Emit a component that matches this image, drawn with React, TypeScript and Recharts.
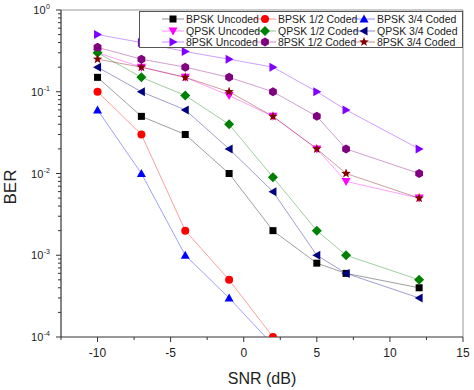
import { LineChart, Line, XAxis, YAxis, Legend, ReferenceLine } from "recharts"

const snr = [-10, -7, -4, -1, 2, 5, 7, 12]

const bpskUncoded = [0.15, 0.05, 0.03, 0.01, 0.002, 0.0008, 0.0006, 0.0004]
const bpskHalf = [0.1, 0.03, 0.002, 0.0005, 0.0001, null, null, null]
const bpskThreeQuarter = [0.06, 0.01, 0.001, 0.0003, 0.00008, null, null, null]
const qpskUncoded = [0.3, 0.2, 0.15, 0.09, 0.05, 0.02, 0.008, 0.005]
const qpskHalf = [0.3, 0.15, 0.09, 0.04, 0.009, 0.002, 0.001, 0.0005]
const qpskThreeQuarter = [0.2, 0.1, 0.06, 0.02, 0.006, 0.001, 0.0006, 0.0003]
const psk8Uncoded = [0.5, 0.4, 0.31, 0.25, 0.2, 0.1, 0.06, 0.02]
const psk8Half = [0.35, 0.25, 0.2, 0.15, 0.1, 0.05, 0.02, 0.01]
const psk8ThreeQuarter = [0.25, 0.2, 0.15, 0.1, 0.05, 0.02, 0.01, 0.005]

const xTicks = [-12.5, -10, -7.5, -5, -2.5, 0, 2.5, 5, 7.5, 10, 12.5, 15]
const yDecades = [0.0001, 0.001, 0.01, 0.1, 1]
const yMinor = [2, 3, 4, 5, 6, 7, 8, 9]

const FONT = "'Liberation Sans', Arial, sans-serif"

type Shape = "square" | "circle" | "up" | "down" | "diamond" | "left" | "right" | "hexagon" | "star"

const series: { key: string; name: string; data: (number | null)[]; color: string; shape: Shape }[] = [
  { key: "bu", name: "BPSK Uncoded", data: bpskUncoded, color: "#000000", shape: "square" },
  { key: "bh", name: "BPSK 1/2 Coded", data: bpskHalf, color: "#FF0000", shape: "circle" },
  { key: "bt", name: "BPSK 3/4 Coded", data: bpskThreeQuarter, color: "#0000FF", shape: "up" },
  { key: "qu", name: "QPSK Uncoded", data: qpskUncoded, color: "#FF00FF", shape: "down" },
  { key: "qh", name: "QPSK 1/2 Coded", data: qpskHalf, color: "#008000", shape: "diamond" },
  { key: "qt", name: "QPSK 3/4 Coded", data: qpskThreeQuarter, color: "#000080", shape: "left" },
  { key: "eu", name: "8PSK Uncoded", data: psk8Uncoded, color: "#8000FF", shape: "right" },
  { key: "eh", name: "8PSK 1/2 Coded", data: psk8Half, color: "#800080", shape: "hexagon" },
  { key: "et", name: "8PSK 3/4 Coded", data: psk8ThreeQuarter, color: "#800000", shape: "star" },
]

const rows = snr.map((x, i) => {
  const row: Record<string, number | null> = { snr: x }
  series.forEach((s) => (row[s.key] = s.data[i]))
  return row
})

const yTicks: number[] = []
yDecades.forEach((d, i) => {
  yTicks.push(d)
  if (i < yDecades.length - 1) yMinor.forEach((m) => yTicks.push(+(d * m).toPrecision(3)))
})

function Marker({ shape, cx, cy, color }: { shape: Shape; cx: number; cy: number; color: string }) {
  const pts = (list: number[][]) => list.map((p) => `${cx + p[0]},${cy + p[1]}`).join(" ")
  switch (shape) {
    case "square":
      return <rect x={cx - 3.5} y={cy - 3.5} width={7} height={7} fill={color} />
    case "circle":
      return <circle cx={cx} cy={cy} r={4} fill={color} />
    case "up":
      return <polygon points={pts([[0, -4.5], [4.5, 3.5], [-4.5, 3.5]])} fill={color} />
    case "down":
      return <polygon points={pts([[0, 4.5], [4.5, -3.5], [-4.5, -3.5]])} fill={color} />
    case "diamond":
      return <polygon points={pts([[0, -5], [5, 0], [0, 5], [-5, 0]])} fill={color} />
    case "left":
      return <polygon points={pts([[-4.5, 0], [3.5, -4.5], [3.5, 4.5]])} fill={color} />
    case "right":
      return <polygon points={pts([[4.5, 0], [-3.5, -4.5], [-3.5, 4.5]])} fill={color} />
    case "hexagon": {
      const h = [0, 1, 2, 3, 4, 5].map((k) => {
        const a = (Math.PI / 3) * k + Math.PI / 6
        return [4.5 * Math.cos(a), 4.5 * Math.sin(a)]
      })
      return <polygon points={pts(h)} fill={color} />
    }
    case "star": {
      const s = Array.from({ length: 10 }, (_, k) => {
        const r = k % 2 === 0 ? 5 : 2.1
        const a = (Math.PI / 5) * k - Math.PI / 2
        return [r * Math.cos(a), r * Math.sin(a)]
      })
      return <polygon points={pts(s)} fill={color} />
    }
  }
  return null
}

const XTick = (props: any) => {
  const { x, y, payload } = props
  const major = payload.value % 5 === 0
  return (
    <g>
      <line x1={x} x2={x} y1={y} y2={y + (major ? 5 : 3)} stroke="#333" strokeWidth={1} />
      {major && (
        <text x={x} y={y + 20} textAnchor="middle" fontSize={12} fill="#222" fontFamily={FONT}>
          {payload.value}
        </text>
      )}
    </g>
  )
}

const YTick = (props: any) => {
  const { x, y, payload } = props
  const exp = Math.round(Math.log10(payload.value))
  const major = Math.abs(Math.log10(payload.value) - exp) < 1e-6
  return (
    <g>
      <line x1={x - (major ? 5 : 3)} x2={x} y1={y} y2={y} stroke="#333" strokeWidth={1} />
      {major && (
        <text x={x - 11} y={y + 4} textAnchor="end" fontSize={11} fill="#222" fontFamily={FONT}>
          10
          <tspan dx={0.5} dy={-5} fontSize={7}>
            {exp}
          </tspan>
        </text>
      )}
    </g>
  )
}

// legend box spans 139..463, column starts relative to it
const colX = [21, 113, 212]

const renderLegend = () => (
  <div
    style={{
      position: "relative",
      width: 324,
      height: 37,
      border: "1px solid #555",
      background: "#fff",
      boxSizing: "border-box",
      fontFamily: FONT,
      fontSize: 10.5,
      color: "#222",
    }}
  >
    {series.map((s, i) => (
      <div
        key={s.key}
        style={{
          position: "absolute",
          left: colX[i % 3],
          top: 1 + Math.floor(i / 3) * 11.7,
          height: 12,
          display: "flex",
          alignItems: "center",
          whiteSpace: "nowrap",
        }}
      >
        <svg width={24} height={12} style={{ display: "block" }}>
          <line x1={1} x2={23} y1={6} y2={6} stroke={s.color} strokeOpacity={0.45} />
          <Marker shape={s.shape} cx={12} cy={6} color={s.color} />
        </svg>
        <span style={{ marginLeft: 1, lineHeight: "12px" }}>{s.name}</span>
      </div>
    ))}
  </div>
)

export default function App() {
  return (
    <div style={{ position: "absolute", left: 0, top: 0, background: "#fff" }}>
      <LineChart
        width={474}
        height={390}
        data={rows}
        margin={{ top: 10, right: 11, bottom: 0, left: 0 }}
        style={{ fontFamily: FONT }}
      >
        <XAxis
          dataKey="snr"
          type="number"
          domain={[-12.5, 15]}
          ticks={xTicks}
          interval={0}
          allowDataOverflow
          tick={<XTick />}
          tickLine={false}
          tickSize={0}
          tickMargin={0}
          height={53}
          axisLine={{ stroke: "#333", strokeWidth: 1.2 }}
          label={{
            content: (p: any) => (
              <text
                x={p.viewBox.x + p.viewBox.width / 2}
                y={384}
                textAnchor="middle"
                fontSize={16}
                fill="#222"
                fontFamily={FONT}
              >
                SNR (dB)
              </text>
            ),
          }}
        />
        <YAxis
          scale="log"
          domain={[0.0001, 1]}
          ticks={yTicks}
          interval={0}
          allowDataOverflow
          tick={<YTick />}
          tickLine={false}
          tickSize={0}
          tickMargin={0}
          width={61}
          axisLine={{ stroke: "#333", strokeWidth: 1.2 }}
          label={{
            content: () => (
              <text
                x={16}
                y={187}
                transform="rotate(-90 16 187)"
                textAnchor="middle"
                fontSize={17}
                fill="#222"
                fontFamily={FONT}
              >
                BER
              </text>
            ),
          }}
        />
        <ReferenceLine y={1} stroke="#999" />
        <ReferenceLine x={15} stroke="#999" />
        {series.map((s) => (
          <Line
            key={s.key}
            dataKey={s.key}
            name={s.name}
            stroke={s.color}
            strokeOpacity={0.38}
            strokeWidth={1}
            isAnimationActive={false}
            dot={(p: any) =>
              p.cx == null || p.cy == null || p.value == null ? (
                <g key={`${s.key}-${p.index}`} />
              ) : (
                <Marker key={`${s.key}-${p.index}`} shape={s.shape} cx={p.cx} cy={p.cy} color={s.color} />
              )
            }
            activeDot={false}
          />
        ))}
        <Legend
          content={renderLegend}
          layout="horizontal"
          verticalAlign="middle"
          align="center"
          wrapperStyle={{ top: 11, left: 139, width: 324, height: 37 }}
        />
      </LineChart>
    </div>
  )
}
